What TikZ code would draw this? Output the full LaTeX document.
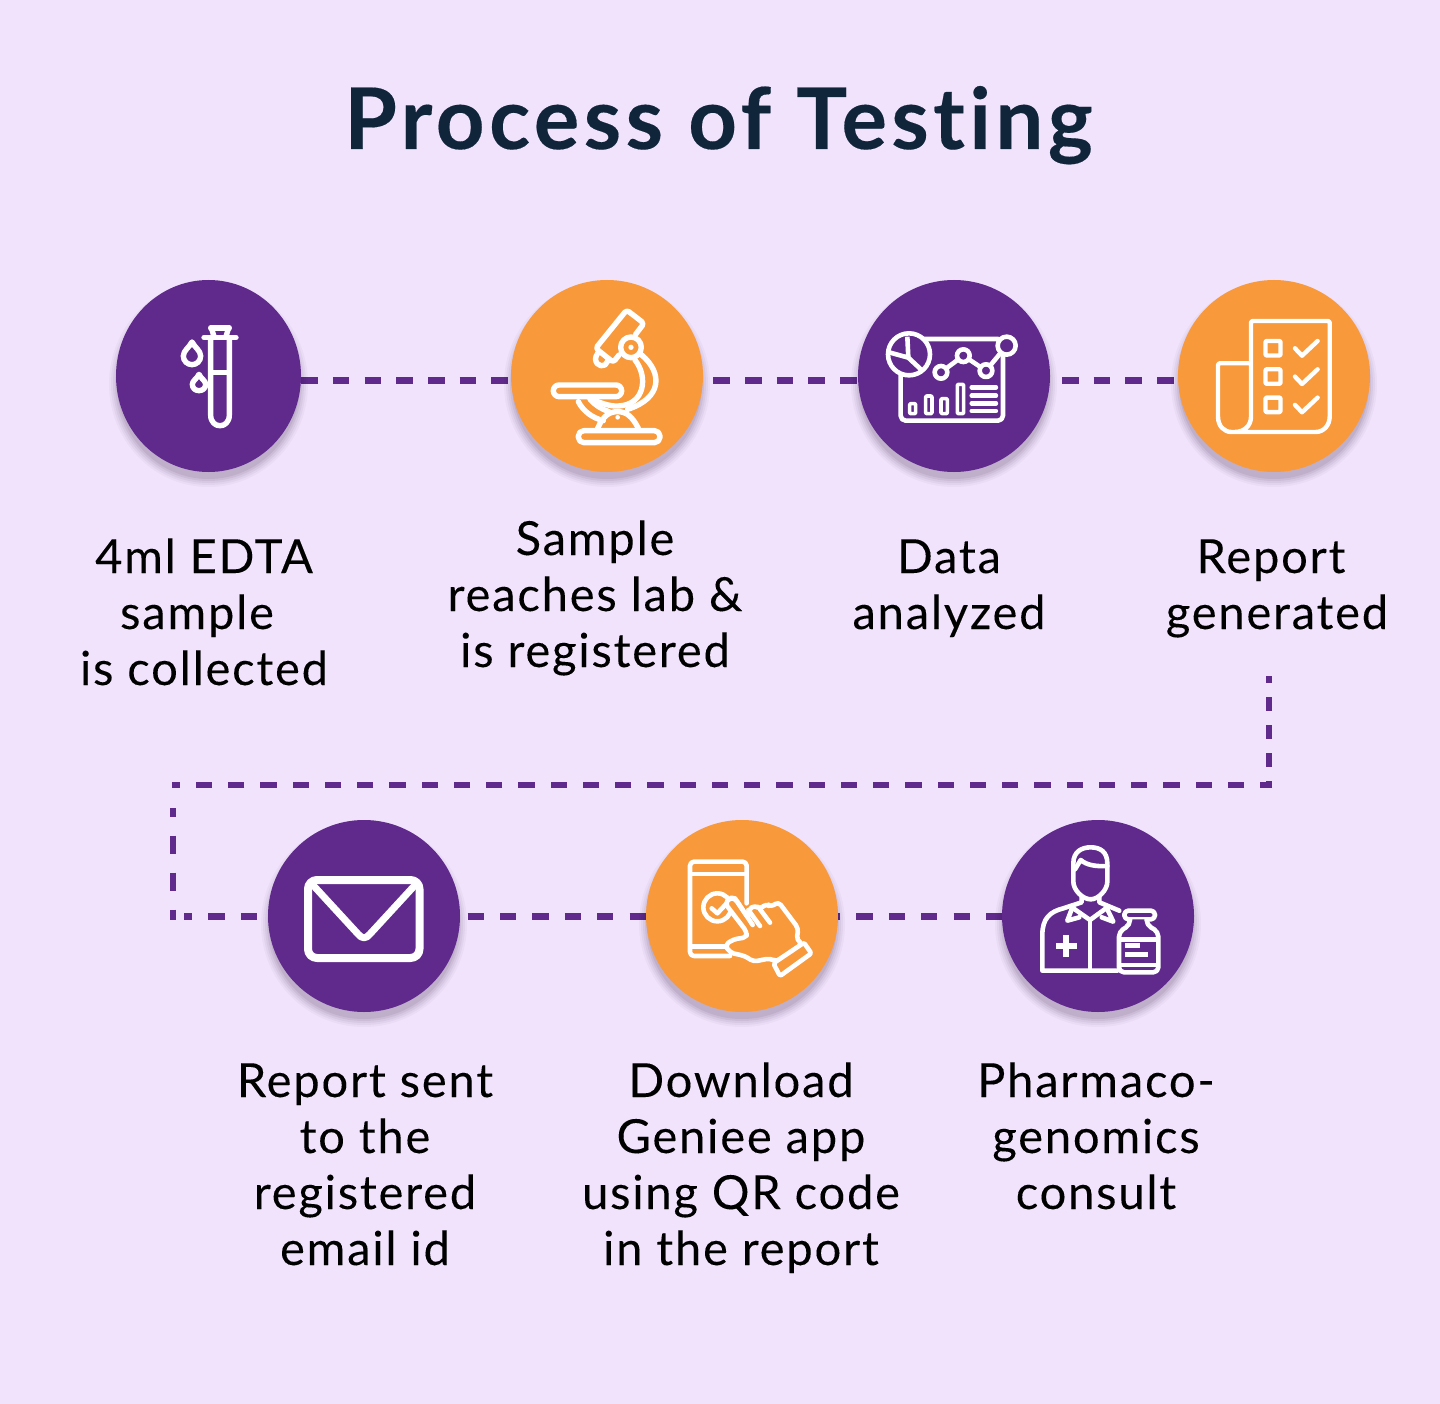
\documentclass[tikz,border=0pt]{standalone}
\usepackage{fontspec}
\setmainfont{Lato}[Ligatures=NoCommon]
\newfontfamily\bodyfont{Lato}[LetterSpace=3.9,Ligatures=NoCommon,FakeBold=0.12]
\newfontfamily\titlefont{Lato Bold}[LetterSpace=5.3,Ligatures=NoCommon,FakeBold=0.2]
\usetikzlibrary{backgrounds,calc,shapes.geometric}
\definecolor{bgc}{HTML}{F1E3FC}
\definecolor{purp}{HTML}{5F2A8B}
\definecolor{oran}{HTML}{F8993B}
\definecolor{titlec}{HTML}{10253A}
\newcommand{\softshadow}[3]{%
  \foreach \d/\o in {7/.03,5/.04,3/.05,1/.06,-1/.07}{
    \fill[black!70!purp,opacity=\o] ($(#1)+(0,8)$) circle[x radius=#2+\d,y radius=#3+\d];
  }}
\tikzset{
  disc/.style={ellipse,inner sep=0pt,minimum width=192pt,minimum height=192pt,fill=#1},
  lbl/.style={anchor=base,inner sep=0pt,align=center,text=black,font=\fontsize{47}{56}\selectfont\bodyfont},
  conn/.style={draw=purp,line width=6pt},
  connb/.style={draw=purp,line width=6.5pt},
  ico/.style={draw=white,line width=5.4pt,line join=round,line cap=round},
  icoz/.style={x=0.3333pt,y=-0.3333pt},
}
\begin{document}
\begin{tikzpicture}[x=1pt,y=-1pt]
\useasboundingbox (0,0) rectangle (1440,1404);
% nodes
\node[disc=purp,minimum width=185pt] (c1) at (208.5,376) {};
\node[disc=oran] (c2) at (607,376) {};
\node[disc=purp] (c3) at (954,376) {};
\node[disc=oran] (c4) at (1274,376) {};
\node[disc=purp] (c5) at (364,916) {};
\node[disc=oran] (c6) at (742,916) {};
\node[disc=purp] (c7) at (1098,916) {};
\coordinate (r1) at (0,380.7);
\coordinate (r2) at (0,916.7);
\coordinate (k1) at (1269,676);
\coordinate (k2) at (1269,788);
\coordinate (k3) at (1272,785);
\coordinate (k4) at (172,785);
\coordinate (k5) at (173,808);
\coordinate (k6) at (173,920);
\coordinate (k7) at (184,916.7);
\begin{scope}[on background layer]
\fill[bgc] (0,0) rectangle (1440,1404);
\draw[connb,dash pattern=on 16.5pt off 15.2pt] (c1.east |- r1) -- (c4.west |- r1);
\draw[conn,dash pattern=on 14pt off 14pt,dash phase=7pt] (k1) -- (k2);
\draw[conn,dash pattern=on 16.25pt off 16pt,dash phase=4.25pt] (k3) -- (k4);
\draw[conn,dash pattern=on 18.5pt off 18.5pt,dash phase=9.5pt] (k5) -- (k6);
\draw[connb,dash pattern=on 16.2pt off 16.2pt,dash phase=8pt] (k7) -- (c7.west |- r2);
\softshadow{c1.center}{92.5}{96}
\softshadow{c2.center}{96}{96}
\softshadow{c3.center}{96}{96}
\softshadow{c4.center}{96}{96}
\softshadow{c5.center}{96}{96}
\softshadow{c6.center}{96}{96}
\softshadow{c7.center}{96}{96}
\end{scope}
% title
\node[anchor=base,inner sep=0pt,text=titlec,font=\fontsize{85}{90}\selectfont\titlefont] (title) at (718.5,149) {Process of Testing};
% labels
\node[lbl] (t1) at (204,685) {4ml EDTA\\sample\rule{14pt}{0pt}\\is collected};
\node[lbl] (t2) at (595,667) {Sample\\reaches lab \&\\is registered};
\node[lbl] (t3) at (949,629) {Data\\analyzed};
\node[lbl] (t4) at (1277,629) {Report\rule{12pt}{0pt}\\generated};
\node[lbl] (t5) at (365,1265) {Report sent\\to the\\registered\\email id};
\node[lbl] (t6) at (741,1265) {Download\\Geniee app\\using QR code\\in the report};
\node[lbl] (t7) at (1096,1209) {Pharmaco-\\genomics\\consult};
% icon 1: test tube
\begin{scope}[shift={(170,320)},icoz]
\draw[ico] (122,60) -- (122,285) .. controls (122,328) and (178,328) .. (178,285) -- (178,60);
\draw[ico] (102,53) -- (198,53);
\draw[ico] (122,24) -- (178,24);
\draw[ico,line cap=butt] (125,26) -- (132,50);
\draw[ico,line cap=butt] (175,26) -- (168,50);
\draw[ico,line cap=butt] (122,158) -- (178,158);
\draw[ico] (66,66) .. controls (58,82) and (40,92) .. (40,108) .. controls (40,123) and (52,134) .. (66,134) .. controls (80,134) and (92,123) .. (92,108) .. controls (92,92) and (74,82) .. (66,66) -- cycle;
\draw[ico] (87,163) .. controls (82,175) and (67,182) .. (67,193) .. controls (67,205) and (76,212) .. (87,212) .. controls (98,212) and (107,205) .. (107,193) .. controls (107,182) and (92,175) .. (87,163) -- cycle;
\end{scope}
% icon 2: microscope
\begin{scope}[shift={(545,300)},icoz]
\draw[ico,rounded corners=3pt] (272,103) -- (297,70) -- (245,30) -- (152,145) -- (205,187) -- (222,165);
\draw[ico] (158,160) .. controls (140,185) and (165,205) .. (180,195) -- (192,178);
\draw[ico] (270,180) .. controls (310,230) and (300,315) .. (220,318) .. controls (190,320) and (160,305) .. (145,300);
\draw[ico] (290,165) .. controls (355,220) and (350,295) .. (248,328);
\draw[ico] (100,305) .. controls (115,335) and (145,355) .. (175,362);
\draw[ico] (135,298) .. controls (150,315) and (170,328) .. (192,335);
\draw[ico] (158,385) .. controls (175,345) and (195,335) .. (218,335) .. controls (245,335) and (262,350) .. (280,385);
\draw[ico,fill=oran] (258,142) circle[radius=31];
\fill[white] (258,142) circle[radius=8];
\fill[white] (218,352) circle[radius=7];
\draw[ico,fill=oran,rounded corners=5.7pt] (25,255) rectangle (230,290);
\draw[ico,fill=oran,rounded corners=5.5pt] (100,392) rectangle (345,428);
\end{scope}
% icon 3: data dashboard
\begin{scope}[shift={(880,325)},icoz]
\draw[ico,line width=4.6pt,rounded corners=5pt] (130,42) -- (369,42) -- (369,287) -- (62,287) -- (62,143);
\draw[ico,line width=4.6pt] (183,142) -- (250,92) -- (318,137) -- (380,62);
\foreach \p/\r in {183/142,250/92,318/137}{\draw[ico,line width=4.6pt,fill=purp] (\p,\r) circle[radius=19];}
\draw[ico,line width=4.6pt,fill=purp] (380,62) circle[radius=27];
\draw[ico,line width=4.6pt,fill=purp] (87,88) circle[radius=63];
\draw[ico,line width=4.6pt,line cap=butt] (82,35) -- (85,98) -- (27,82);
\draw[ico,line width=4.6pt,line cap=butt] (85,98) -- (130,140);
\draw[ico,line width=3.6pt,rounded corners=1pt] (89,236) rectangle (107,266);
\draw[ico,line width=3.6pt,rounded corners=1pt] (137,213) rectangle (156,266);
\draw[ico,line width=3.6pt,rounded corners=1pt] (183,221) rectangle (202,266);
\draw[ico,line width=3.6pt,rounded corners=1pt] (232,178) rectangle (251,266);
\foreach \r in {187,212,235,258}{\draw[ico,line width=4.4pt] (275,\r) -- (348,\r);}
\end{scope}
% icon 4: report
\draw[ico,line width=4.4pt,rounded corners=1.5pt] (1233,432) -- (1314,432) .. controls (1324,432) and (1329.7,425) .. (1329.7,415) -- (1329.7,321) -- (1251,321) -- (1251,415) .. controls (1251,426) and (1244,432) .. (1233,432) .. controls (1224,432) and (1218,426) .. (1218,415) -- (1218,363.3) -- (1251,363.3);
\foreach \y in {0,28.3,56.6}{
  \draw[ico,line width=4.4pt,rounded corners=1pt] (1265.5,341+\y) rectangle (1280.5,355.5+\y);
  \draw[ico,line width=4.4pt] (1295,348.3+\y) -- (1302,355.7+\y) -- (1317.6,341+\y);
}
% icon 5: envelope
\draw[ico,line width=8pt,rounded corners=9pt] (308,880) rectangle (419.5,958);
\draw[ico,line width=7pt] (312,884) -- (358,934) .. controls (362,939) and (366,939) .. (370,934) -- (416,884);
% icon 6: phone and hand
\begin{scope}[shift={(680,850)},icoz]
\draw[ico,line width=4.6pt,rounded corners=4pt] (150,318) -- (30,318) -- (30,35) -- (200,35) -- (200,160);
\draw[ico,line width=4.6pt,line cap=butt] (30,72) -- (200,72);
\draw[ico,line width=4.6pt,line cap=butt] (30,290) -- (135,290);
\draw[ico,line width=4.6pt] (112,172) circle[radius=42];
\draw[ico,line width=4.6pt] (95,175) -- (112,190) -- (140,160);
\draw[ico,line width=4.6pt,fill=oran,rounded corners=4pt]
 (135,160) -- (150,143) -- (165,145) -- (205,205) -- (205,180) -- (225,165) -- (240,178) -- (260,160) -- (272,172) -- (295,155) -- (355,235) -- (350,270) -- (368,282) -- (290,335) -- (270,325) -- (220,335) -- (195,318) -- (150,308) -- (135,285) -- (160,268) -- (200,262) -- (200,245) -- cycle;
\draw[ico,line width=4.6pt] (165,145) -- (218,225);
\draw[ico,line width=4.6pt] (205,180) -- (240,228);
\draw[ico,line width=4.6pt] (240,178) -- (270,218);
\draw[ico,line width=4.6pt,fill=oran,rounded corners=2pt] (280,340) -- (372,278) -- (394,310) -- (300,378) -- cycle;
\end{scope}
% icon 7: doctor and bottle
\begin{scope}[shift={(1030,840)},icoz]
\draw[ico,line width=4.6pt] (130,125) -- (130,70) .. controls (130,35) and (155,22) .. (182,22) .. controls (210,22) and (232,35) .. (232,70) -- (232,125) .. controls (232,150) and (205,178) .. (182,178) .. controls (158,178) and (130,150) .. (130,125) -- cycle;
\draw[ico,line width=4.6pt] (135,88) -- (152,60) .. controls (170,75) and (195,80) .. (232,78);
\draw[ico,line width=4.6pt] (155,170) -- (155,187) -- (100,205) .. controls (60,215) and (37,235) .. (37,285) -- (37,392) -- (262,392);
\draw[ico,line width=4.6pt] (208,170) -- (208,187) -- (268,212);
\draw[ico,line width=4.6pt] (180,240) -- (180,392);
\draw[ico,line width=4.6pt] (130,205) -- (180,240) -- (228,205);
\draw[ico,line width=4.6pt] (125,208) -- (112,242) -- (148,232);
\draw[ico,line width=4.6pt] (232,208) -- (250,245) -- (215,232);
\draw[ico,line width=5.5pt,line cap=butt] (78,318) -- (140,318);
\draw[ico,line width=5.5pt,line cap=butt] (108,285) -- (108,350);
\draw[ico,line width=4.6pt,fill=purp,rounded corners=4pt] (283,212) rectangle (375,238);
\draw[ico,line width=4.6pt,fill=purp,rounded corners=5pt] (300,238) -- (300,255) -- (267,275) -- (267,397) -- (385,397) -- (385,275) -- (350,255) -- (350,238);
\draw[ico,line width=4.6pt,line cap=butt] (267,298) -- (385,298);
\draw[ico,line width=4.6pt,line cap=butt] (267,375) -- (385,375);
\fill[white] (285,310) rectangle (330,325);
\fill[white] (285,335) rectangle (355,350);
\end{scope}
\end{tikzpicture}
\end{document}
